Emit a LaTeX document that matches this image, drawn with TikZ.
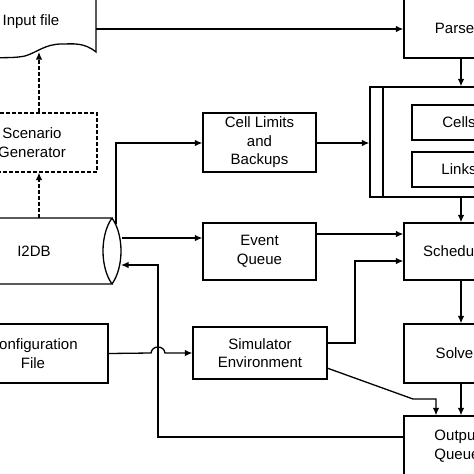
\documentclass[tikz,border=0pt]{standalone}
\usepackage{fontspec}
\setmainfont{Liberation Sans}
\usetikzlibrary{arrows.meta}

\begin{document}
\begin{tikzpicture}[x=1pt, y=-1pt, line width=1.3pt,
  box/.style={draw, rectangle, inner sep=0pt, align=center, font=\fontsize{15}{18.5}\selectfont},
  lbl/.style={inner sep=0pt, align=center, font=\fontsize{15}{18.5}\selectfont},
  arr/.style={-{Latex[length=7.5pt,width=6.5pt]}},
  dsh/.style={dash pattern=on 4pt off 2pt}]
\useasboundingbox (0,0) rectangle (474,474);
\clip (0,0) rectangle (474,474);

% input file (document) and database
\draw (-30,-10) -- (96,-10) -- (96,52) .. controls (84,42) and (72,44) .. (62,44)
  .. controls (45,44) and (38,52) .. (25,56) .. controls (15,58) and (5,58) .. (-30,57);
\node[lbl] (infile) at (31,22) {Input file};
\draw (-20,218) -- (112,218) .. controls (100,235) and (100,267) .. (112,284) -- (-20,284);
\draw (112,218) .. controls (124,235) and (124,267) .. (112,284);
\node[lbl] (i2db) at (34,251) {I2DB};

% boxes
\node[box, dsh, minimum width=130, minimum height=59] (scen) at (32,142.5) {Scenario\\Generator};
\node[box, minimum width=150, minimum height=59] (config) at (33,353.5) {Configuration\\File};
\node[box, minimum width=113, minimum height=59] (limits) at (259.5,142.5) {Cell Limits\\and\\Backups};
\node[box, minimum width=113, minimum height=57] (event) at (259.5,251.5) {Event\\Queue};
\node[box, minimum width=134, minimum height=52] (simenv) at (260,353) {Simulator\\Environment};
\node[box, minimum width=106, minimum height=60] (parser) at (457,28) {Parser};
\node[box, minimum width=160, minimum height=110] (net) at (450,142) {};
\draw (383,87) -- (383,197);
\node[box, minimum width=94, minimum height=35] (cells) at (459,122.5) {Cells};
\node[box, minimum width=94, minimum height=35] (links) at (459,169.5) {Links};
\node[box, minimum width=106, minimum height=57] (sched) at (457,251.5) {Scheduler};
\node[box, minimum width=106, minimum height=59] (solver) at (457,353.5) {Solver};
\node[box, minimum width=106, minimum height=60] (outq) at (457,446) {Output\\Queue};

\coordinate (col) at (461,0);
\coordinate (dcol) at (39,0);
\coordinate (fbot) at (39,52);
\coordinate (dbtop) at (39,218);
\coordinate (dbup) at (116,224);
\coordinate (dbout) at (122,238);
\coordinate (dbin) at (121,265);
\coordinate (simlo) at (327,368);

% connectors
\draw[arr] (96,29) -- (parser.west |- 0,29);
\draw[arr] (parser.south -| col) -- (net.north -| col);
\draw[arr] (net.south -| col) -- (sched.north -| col);
\draw[arr] (sched.south -| col) -- (solver.north -| col);
\draw[arr] (solver.south -| col) -- (outq.north -| col);
\draw[arr] (limits.east |- 0,143) -- (net.west |- 0,143);
\draw[arr, dsh] (scen.north -| dcol) -- (fbot);
\draw[arr, dsh] (dbtop) -- (scen.south -| dcol);
\draw[arr] (dbup) -- (116,143) -- (limits.west |- 0,143);
\draw[arr] (dbout) -- (event.west |- dbout);
\draw[arr] (event.east |- 0,234) -- (sched.west |- 0,234);
\draw[arr] (config.east) -- (151,353) .. controls (152,345) and (164,345) .. (165,353) -- (simenv.west);
\draw[arr] (simenv.east |- 0,343) -- (355,343) -- (355,261) -- (sched.west |- 0,261);
\draw[arr] (simlo) -- (413,399) -- (436,399) -- (outq.north -| 436,0);
\draw[arr] (outq.west |- 0,437) -- (158,437) -- (158,265) -- (dbin);
\end{tikzpicture}
\end{document}
